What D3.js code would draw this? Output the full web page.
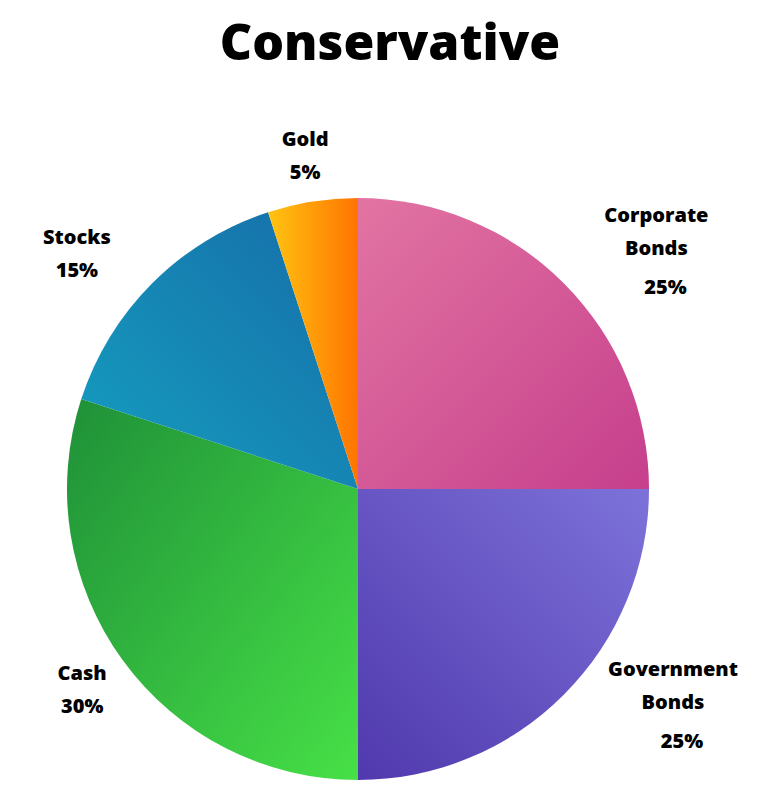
<!DOCTYPE html>
<html><head><meta charset="utf-8">
<script src="https://cdn.jsdelivr.net/npm/d3@7"></script>
<style>body{margin:0;background:#fff}svg{display:block}text{font-family:"Open Sans",sans-serif;font-weight:800;fill:#000}</style>
</head><body><svg width="768" height="811"></svg>
<script>
var categories = [["Corporate", "Bonds"], ["Government", "Bonds"], ["Cash"], ["Stocks"], ["Gold"]];
var values = [25, 25, 30, 15, 5];
var percentLabels = ["25%", "25%", "30%", "15%", "5%"];
// gradient stops [from, to] and direction [x1,y1,x2,y2]
var colors = [["#e274a2", "#c63f8c"], ["#7d72da", "#5039ad"], ["#1f9038", "#47e047"], ["#159fc0", "#166ca8"], ["#ffc412", "#ff7400"]];
var dirs = [[0,0,1,1], [1,0,0,1], [0,0,1,1], [0,1,1,0], [0,0,1,0]];
var labelAngles = [51, 124, 234, 310, 351];
var labelRadii = [384, 380, 341, 367, 338];

var svg = d3.select("svg");
var cx = 358, cy = 489, r = 291;

svg.append("text").attr("x", 390).attr("y", 60).attr("text-anchor", "middle")
    .style("font-size", "50px").style("font-weight", 800).text("Conservative");

var defs = svg.append("defs");
colors.forEach(function (c, i) {
    var g = defs.append("linearGradient").attr("id", "g" + i)
        .attr("x1", dirs[i][0]).attr("y1", dirs[i][1]).attr("x2", dirs[i][2]).attr("y2", dirs[i][3]);
    g.append("stop").attr("offset", 0).attr("stop-color", c[0]);
    g.append("stop").attr("offset", 1).attr("stop-color", c[1]);
});

var pie = d3.pie().sort(null)(values);
var arc = d3.arc().innerRadius(0).outerRadius(r);
var g = svg.append("g").attr("transform", "translate(" + cx + "," + cy + ")");
g.selectAll("path").data(pie).enter().append("path")
    .attr("d", arc).attr("fill", function (d, i) { return "url(#g" + i + ")"; });

pie.forEach(function (d, i) {
    var a = labelAngles[i] * Math.PI / 180;
    var x = Math.sin(a) * labelRadii[i], y = -Math.cos(a) * labelRadii[i];
    var lines = categories[i].concat([percentLabels[i]]);
    var t = g.append("text").attr("text-anchor", "middle").style("font-size", "20px");
    var y0 = y - (lines.length - 1) * 16;
    lines.forEach(function (s, k) {
        var extra = (lines.length === 3 && k === 2) ? 6 : 0;
        t.append("tspan").attr("x", x + (lines.length === 3 && k === 2 ? 9 : 0))
            .attr("y", y0 + k * 33 + extra + 7).text(s);
    });
});
</script></body></html>
